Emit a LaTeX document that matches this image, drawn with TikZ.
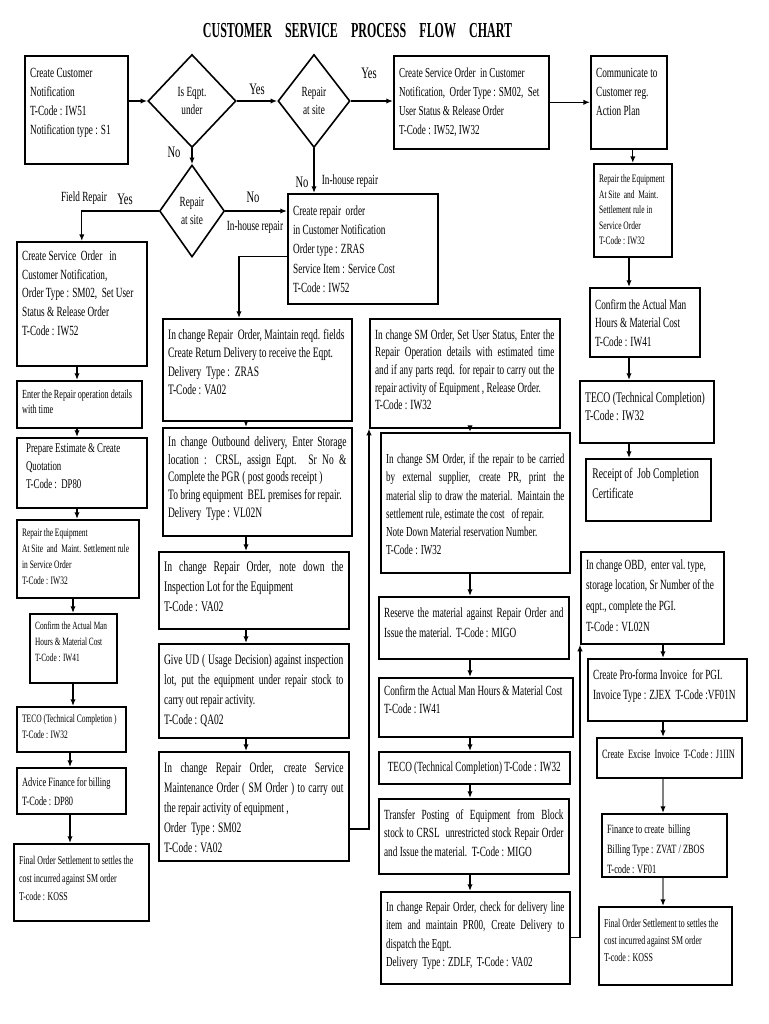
\documentclass[tikz,border=0pt]{standalone}
\usepackage{fontspec}
\setmainfont{Liberation Serif}[FakeStretch=0.66]
\usepackage{graphicx}
\usetikzlibrary{arrows.meta,shapes.geometric,calc}
\tikzset{
  pbox/.style={draw=black, line width=1.2pt, anchor=north west, inner xsep=4pt, inner ysep=0pt, fill=white},
  dia/.style={draw=black, line width=1.2pt, diamond, inner sep=0pt, align=center, font=\fontsize{10.5}{13.5}\selectfont},
  arr/.style={draw=black, line width=1pt, -{Latex[length=5pt,width=4pt]}},
  garr/.style={draw=black!50, line width=1pt, -{Latex[length=5pt,width=4pt,color=black]}},
  lbl/.style={inner sep=0pt, font=\fontsize{12}{14}\selectfont},
  lbls/.style={inner sep=0pt, font=\fontsize{10.5}{12}\selectfont},
}
% #1 first-baseline offset, #2 name, #3 x1, #4 y1, #5 x2, #6 y2, #7 setup, #8 text
\newcommand\bx[8][15pt]{%
  \node[pbox] (#2) at (#3,#4) {\parbox[t][\dimexpr 0.75pt*\numexpr #6-#4\relax\relax][t]{\dimexpr 0.75pt*\numexpr #5-#3\relax - 8pt\relax}{\raggedright #7\rule{0pt}{#1}#8}};}
\newcommand\jl[1]{\makebox[\linewidth][s]{#1}\par}
\begin{document}
\begin{tikzpicture}[x=0.75pt,y=-0.75pt]
\fill[white] (0,0) rectangle (768,1024);
\useasboundingbox (0,0) rectangle (768,1024);

\node (title) at (357.5,31) {\fontsize{16}{18}\selectfont\bfseries\scalebox{0.85}[1]{CUSTOMER\hspace{9pt} SERVICE\hspace{9pt} PROCESS\hspace{9pt} FLOW\hspace{9pt} CHART}};

% top row
\bx[16pt]{notif}{24}{55}{127}{163}{\fontsize{10.5}{14.25}\selectfont}{Create Customer\\Notification\\T-Code : IW51\\Notification type : S1}
\node[dia, minimum width=66pt, minimum height=69.75pt] (d1) at (192,101) {Is Eqpt.\\under};
\node[dia, minimum width=54pt, minimum height=69.75pt] (d2) at (314,101) {Repair\\at site};
\bx[16pt]{so}{393}{55}{548}{148}{\fontsize{10.3}{14.25}\selectfont}{Create Service Order\ \ in Customer\\Notification,\ \ Order Type : SM02,\ \ Set\\User Status \& Release Order\\T-Code : IW52, IW32}
\bx[16pt]{comm}{590}{55}{666}{148}{\fontsize{10.5}{14.5}\selectfont}{Communicate to\\Customer reg.\\Action Plan}

% right column
\bx[14.3pt]{rr}{593}{163}{671}{256}{\fontsize{8.5}{11.6}\selectfont}{Repair the Equipment\\At Site\ \ and\ \ Maint.\\Settlement rule in\\Service Order\\T-Code : IW32}
\bx[16pt]{rc}{589}{287}{699}{356}{\fontsize{10.5}{14}\selectfont}{Confirm the Actual Man\\Hours \& Material Cost\\T-Code : IW41}
\bx[16pt]{rt}{579}{380}{713}{442}{\fontsize{11}{13.5}\selectfont}{TECO (Technical Completion)\\T-Code : IW32}
\bx[14.6pt]{rcpt}{585}{458}{710}{520}{\fontsize{11}{15.5}\selectfont}{\hspace*{1pt}Receipt of\ \ Job Completion\\\hspace*{1pt}Certificate}

% second decision
\node[dia, minimum width=48.75pt, minimum height=69pt] (d3) at (192,211) {Repair\\at site};
\bx[16pt]{ro}{287}{193}{437}{303}{\fontsize{10.5}{14.5}\selectfont}{Create repair\ \ order\\in Customer Notification\\Order type : ZRAS\\Service Item : Service Cost\\T-Code : IW52}

% labels
\node[lbl] (yes1) at (257,89) {Yes};
\node[lbl] (yes2) at (369,73) {Yes};
\node[lbl] (no1) at (174,152) {No};
\node[lbl] (no2) at (302,182) {No};
\node[lbls] (ih1) at (350,181) {In-house repair};
\node[lbl] (yes3) at (125,199) {Yes};
\node[lbls] (fr) at (84,198) {Field Repair};
\node[lbl] (no3) at (253,197) {No};
\node[lbls] (ih2) at (255,227) {In-house repair};

% left column
\bx[14pt]{l1}{16}{241}{146}{365}{\fontsize{10.5}{14}\selectfont}{Create Service\ \ Order\ \ \ in\\Customer Notification,\\Order Type : SM02,\ \ Set User\\Status \& Release Order\\T-Code : IW52}
\bx[13.5pt]{l2}{16}{380}{141}{427}{\fontsize{9.3}{11}\selectfont}{Enter the Repair operation details\\with time}
\bx[11pt]{l3}{16}{437}{146}{507}{\fontsize{10}{13.5}\selectfont}{\hspace*{3pt}Prepare Estimate \& Create\\\hspace*{3pt}Quotation\\\hspace*{3pt}T-Code :\ \ DP80}
\bx[12.75pt]{l4}{16}{519}{138}{597}{\fontsize{8.5}{12}\selectfont}{Repair the Equipment\\At Site\ \ and\ \ Maint. Settlement rule\\in Service Order\\T-Code : IW32}
\bx[12pt]{l5}{29}{613}{116}{682}{\fontsize{8.3}{12}\selectfont}{Confirm the Actual Man\\Hours \& Material Cost\\T-Code : IW41}
\bx[12pt]{l6}{16}{706}{125}{751}{\fontsize{8.5}{11.5}\selectfont}{TECO (Technical Completion )\\T-Code : IW32}
\bx[14pt]{l7}{16}{767}{125}{813}{\fontsize{9.5}{14}\selectfont}{Advice Finance for billing\\T-Code : DP80}
\bx[15.4pt]{l8}{13}{843}{148}{920}{\fontsize{9}{13.5}\selectfont}{Final Order Settlement to settles the\\cost incurred against SM order\\T-code : KOSS}

% middle column
\bx[15.4pt]{m1}{162}{318}{351}{420}{\fontsize{10.8}{13.75}\selectfont}{In change Repair\ \ Order, Maintain reqd. fields\\Create Return Delivery to receive the Eqpt.\\Delivery\ \ Type :\ \ ZRAS\\T-Code : VA02}
\bx[14pt]{m2}{162}{427}{351}{535}{\fontsize{10.8}{13.3}\selectfont}{\jl{In change Outbound delivery, Enter Storage}\jl{location : CRSL, assign Eqpt. Sr No \&}Complete the PGR ( post goods receipt )\\To bring equipment\ \ BEL premises for repair.\\Delivery\ \ Type : VL02N}
\bx[14.6pt]{m3}{158}{551}{348}{628}{\fontsize{11}{15}\selectfont}{\jl{In change Repair Order, note down the}Inspection Lot for the Equipment\\T-Code : VA02}
\bx[15.4pt]{m4}{158}{643}{348}{737}{\fontsize{10.8}{15}\selectfont}{\jl{Give UD ( Usage Decision) against inspection}\jl{lot, put the equipment under repair stock to}carry out repair activity.\\T-Code : QA02}
\bx[15.4pt]{m5}{158}{751}{348}{860}{\fontsize{10.8}{15}\selectfont}{\jl{In change Repair Order, create Service}\jl{Maintenance Order ( SM Order ) to carry out}the repair activity of equipment ,\\Order\ \ Type : SM02\\T-Code : VA02}

% SM column
\bx[15.4pt]{sm1}{369}{318}{559}{427}{\fontsize{10.5}{13.2}\selectfont}{\jl{In change SM Order, Set User Status, Enter the}\jl{Repair Operation details with estimated time}\jl{and if any parts reqd. for repair to carry out the}repair activity of Equipment , Release Order.\\T-Code : IW32}
\bx[23pt]{sm2}{380}{432}{569}{572}{\fontsize{10.3}{13.7}\selectfont}{\jl{In change SM Order, if the repair to be carried}\jl{by external supplier, create PR, print the}\jl{material slip to draw the material. Maintain the}settlement rule, estimate the cost\ \ \ of repair.\\Note Down Material reservation Number.\\T-Code : IW32}
\bx[15.4pt]{sm3}{378}{596}{568}{658}{\fontsize{10.5}{15}\selectfont}{\jl{Reserve the material against Repair Order and}Issue the material.\ \ T-Code : MIGO}
\bx[13pt]{sm4}{378}{677}{572}{736}{\fontsize{10.5}{13.5}\selectfont}{Confirm the Actual Man Hours \& Material Cost\\T-Code : IW41}
\bx[14.6pt]{sm5}{378}{751}{569}{783}{\fontsize{10.5}{13}\selectfont\centering}{TECO (Technical Completion) T-Code : IW32}
\bx[15.4pt]{sm6}{378}{798}{568}{873}{\fontsize{10.5}{13.8}\selectfont}{\jl{Transfer Posting of Equipment from Block}\jl{stock to CRSL\ \ unrestricted stock Repair Order}and Issue the material.\ \ T-Code : MIGO}
\bx[14.6pt]{sm7}{380}{891}{569}{983}{\fontsize{10.3}{13.8}\selectfont}{\jl{In change Repair Order, check for delivery line}\jl{item and maintain PR00, Create Delivery to}dispatch the Eqpt.\\Delivery\ \ Type : ZDLF,\ \ T-Code : VA02}

% lower right column
\bx[13pt]{obd}{580}{551}{723}{643}{\fontsize{10.5}{15.5}\selectfont}{In change OBD,\ \ enter val.\ type,\\storage location, Sr Number of the\\eqpt., complete the PGI.\\T-Code : VL02N}
\bx[15.4pt]{pf}{587}{658}{746}{720}{\fontsize{10.5}{15}\selectfont}{Create Pro-forma Invoice\ \ for PGI.\\Invoice Type : ZJEX\ \ T-Code :VF01N}
\bx[15.4pt]{ex}{596}{737}{741}{777}{\fontsize{9.5}{12}\selectfont}{Create\ \ Excise\ \ Invoice\ \ T-Code : J1IIN}
\bx[14.6pt]{fb}{601}{813}{726}{876}{\fontsize{9.5}{15}\selectfont}{Finance to create\ \ billing\\Billing Type : ZVAT / ZBOS\\T-code : VF01}
\bx[15.4pt]{fs}{598}{906}{731}{984}{\fontsize{9}{12.75}\selectfont}{Final Order Settlement to settles the\\cost incurred against SM order\\T-code : KOSS}

% column coordinates
\coordinate (colR) at (629,0);
\coordinate (colL) at (77,0);
\coordinate (colL2) at (73,0);
\coordinate (colL3) at (70,0);
\coordinate (colA) at (239,0);
\coordinate (colM) at (246,0);
\coordinate (colS) at (470,0);
\coordinate (colO) at (663,0);

% connectors: top
\draw[arr] (notif.east |- d1.west) -- (d1.west);
\draw[arr] (d1.east) -- (d2.west);
\draw[arr] (d2.east) -- (so.west |- d2.east);
\draw[arr] (so.east) -- (comm.west |- so.east);
\draw[arr] (rr.north |- comm.south) -- (rr.north);
\draw[arr] (rr.south -| colR) -- (rc.north -| colR);
\draw[arr] (rc.south -| colR) -- (rt.north -| colR);
\draw[arr] (rt.south -| colR) -- (rcpt.north -| colR);
\draw[arr] (d1.south) -- (d3.north);
\draw[arr] (d2.south) -- (d2.south |- ro.north);
\draw[arr] (d3.east) -- (ro.west |- d3.east);
\draw[arr] (d3.west) -| (l1.north);
\draw[arr] ([yshift=-6pt]ro.west) -| (m1.north -| colA);

% left column
\draw[arr] (l1.south -| colL) -- (l2.north -| colL);
\draw[arr] (l2.south -| colL) -- (l3.north -| colL);
\draw[arr] (l3.south -| colL) -- (l4.north -| colL);
\draw[arr] (l4.south -| colL2) -- (l5.north -| colL2);
\draw[arr] (l5.south -| colL2) -- (l6.north -| colL2);
\draw[arr] (l6.south -| colL3) -- (l7.north -| colL3);
\draw[arr] (l7.south -| colL3) -- (l8.north -| colL3);

% middle column
\draw[arr] (m1.south -| colM) -- (m2.north -| colM);
\draw[arr] (m2.south -| colM) -- (m3.north -| colM);
\draw[arr] (m3.south -| colM) -- (m4.north -| colM);
\draw[arr] (m4.south -| colM) -- (m5.north -| colM);
\draw[arr] ([yshift=-17pt]m5.east) -| (sm1.south west);

% SM column
\draw[arr] (sm1.south -| colS) -- (sm2.north -| colS);
\draw[arr] (sm2.south -| colS) -- (sm3.north -| colS);
\draw[arr] (sm3.south -| colS) -- (sm4.north -| colS);
\draw[arr] (sm4.south -| colS) -- (sm5.north -| colS);
\draw[arr] (sm5.south -| colS) -- (sm6.north -| colS);
\draw[arr] (sm6.south -| colS) -- (sm7.north -| colS);
\draw[arr] (sm7.east) -| (obd.south west);

% lower right
\draw[arr] (obd.south -| colO) -- (pf.north -| colO);
\draw[arr] (pf.south -| colO) -- (ex.north -| colO);
\draw[garr] (ex.south -| colO) -- (fb.north -| colO);
\draw[garr] (fb.south -| colO) -- (fs.north -| colO);
\end{tikzpicture}
\end{document}
